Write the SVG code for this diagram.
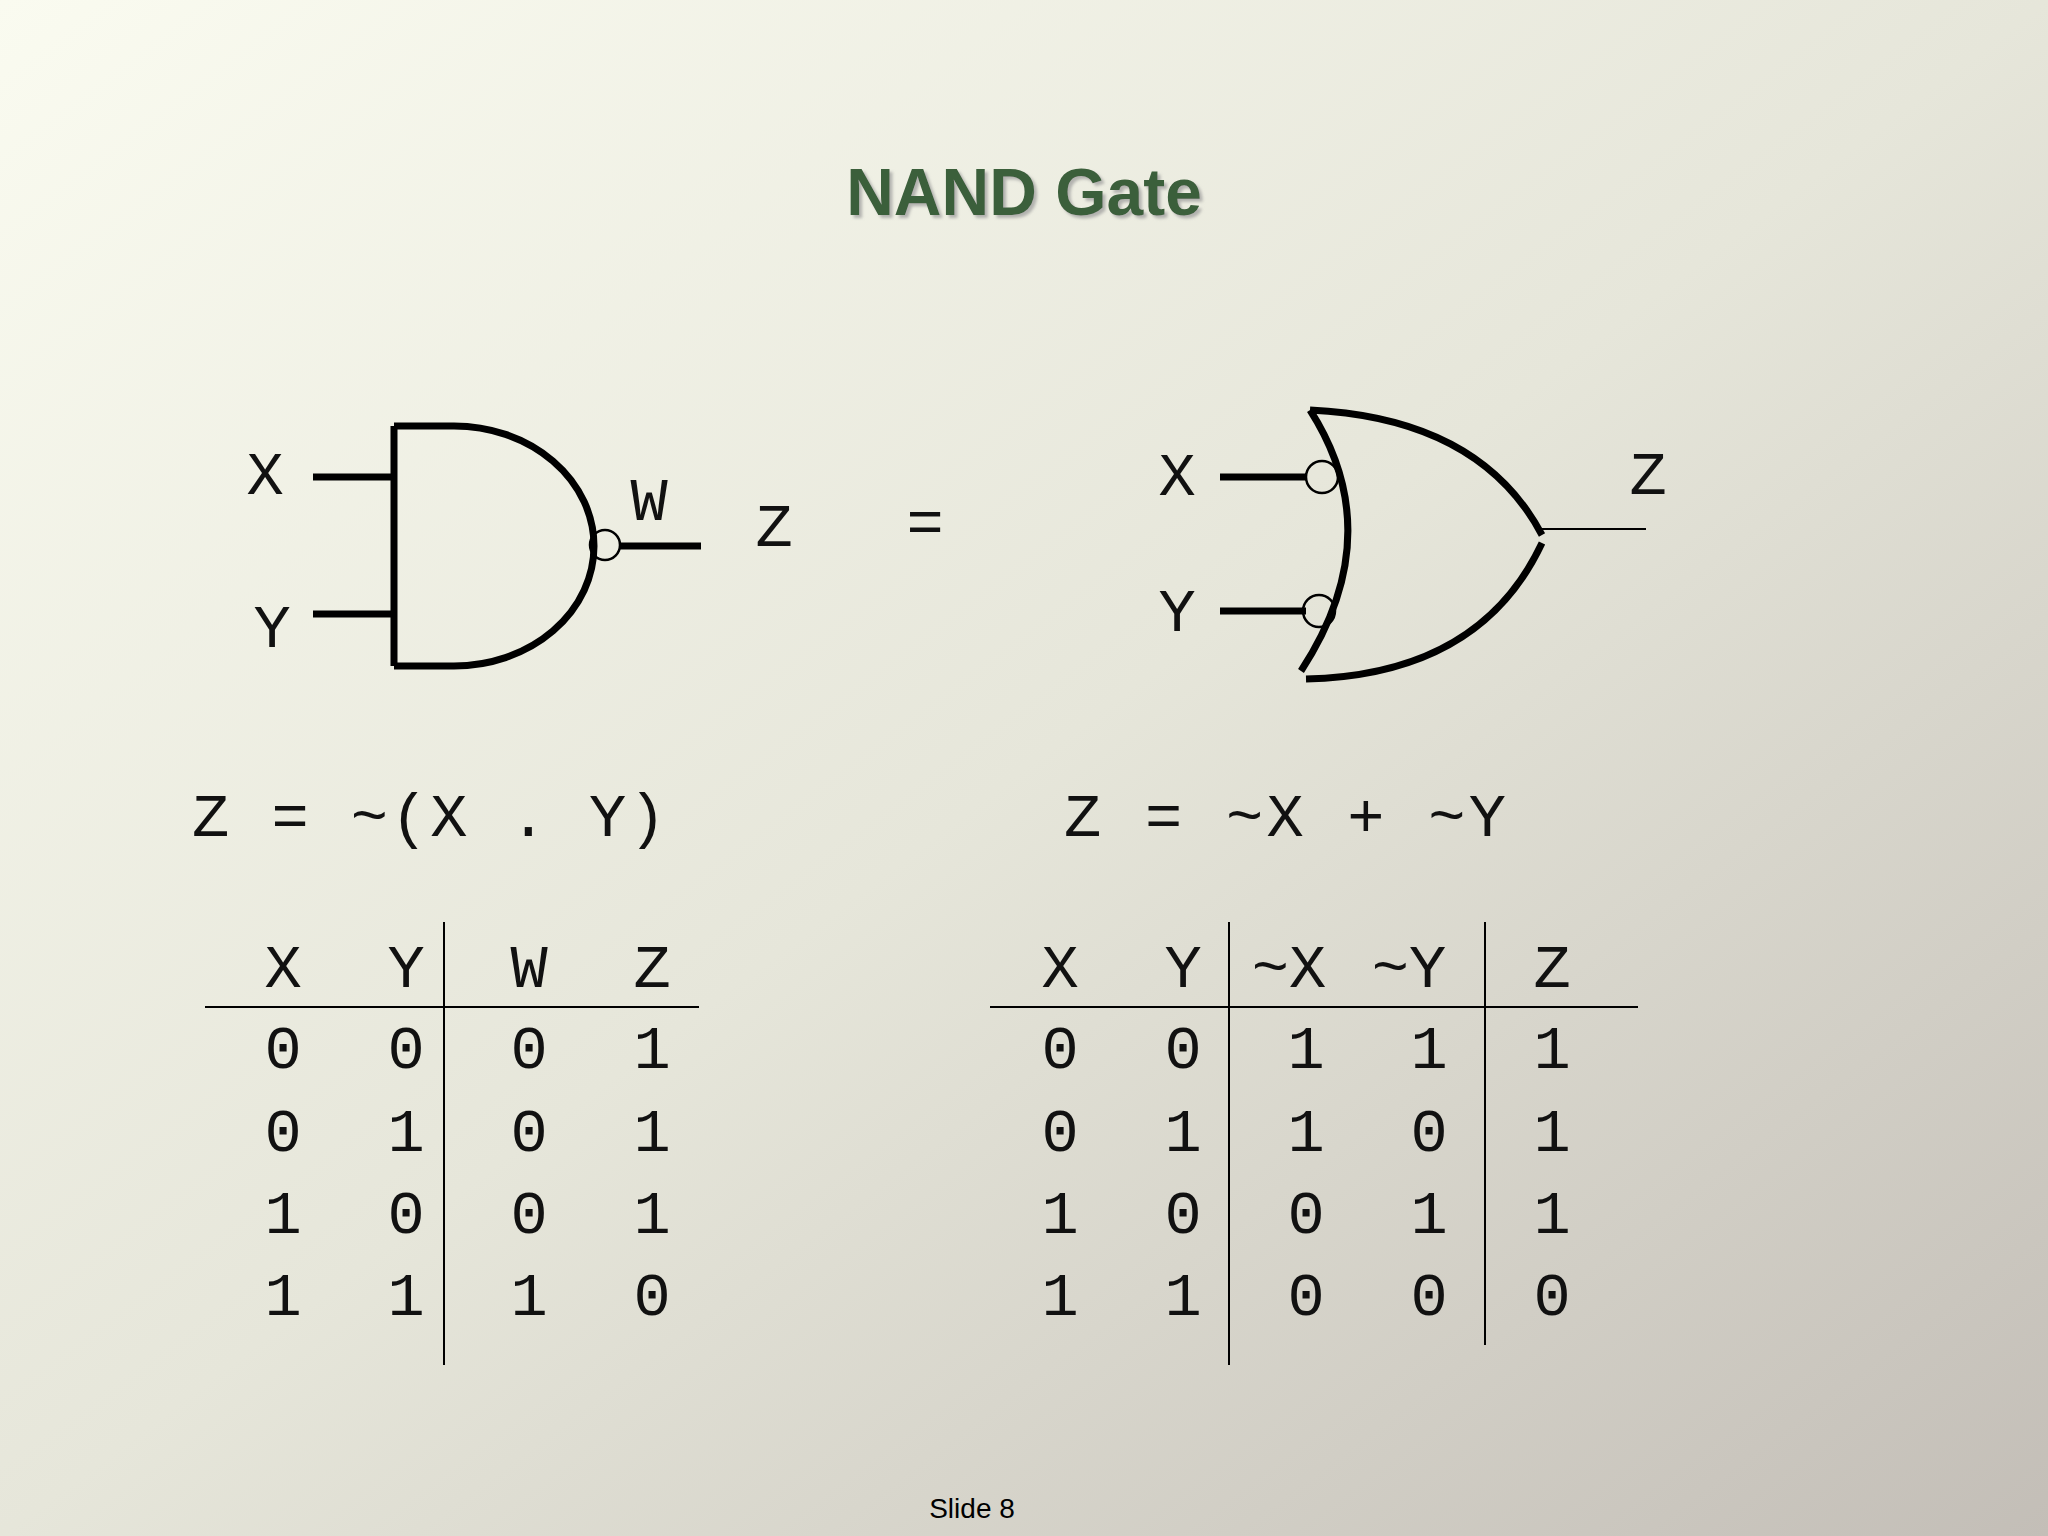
<svg xmlns="http://www.w3.org/2000/svg" width="2048" height="1536" viewBox="0 0 2048 1536">
<defs>
<linearGradient id="bg" x1="0" y1="0" x2="1" y2="1">
<stop offset="0" stop-color="#fafbf0"/><stop offset="0.5" stop-color="#e6e6da"/><stop offset="1" stop-color="#c3beb7"/>
</linearGradient>
<filter id="sh"><feDropShadow dx="3" dy="3" stdDeviation="1.5" flood-color="#999" flood-opacity="0.7"/></filter>
</defs>
<style>
.m{font-family:"Liberation Mono","Courier New",monospace;font-size:62px;fill:#111;text-anchor:middle;dominant-baseline:central}
.w{stroke:#000;stroke-width:7;fill:none}
.t{stroke:#000;stroke-width:2;fill:none}
</style>
<rect width="2048" height="1536" fill="url(#bg)"/>
<text x="1024" y="215" font-family="Liberation Sans,Arial,sans-serif" font-size="66" font-weight="bold" fill="#3b5e3a" text-anchor="middle" filter="url(#sh)">NAND Gate</text>
<g id="and-gate">
<path class="w" d="M313 477H394M313 614H394M394 426V666M394 426H454A140 120 0 0 1 454 666H394M620 546H701"/>
<circle cx="605" cy="545" r="15" fill="none" stroke="#000" stroke-width="2.5"/>
<text class="m" x="265" y="477">X</text><text class="m" x="272" y="630">Y</text>
<text class="m" x="649" y="503">W</text>
</g>
<text class="m" x="774" y="529">Z</text>
<text class="m" x="925" y="525">=</text>
<g id="or-gate">
<path class="w" d="M1310 410Q1390 535 1301 671M1310 410Q1480 418 1542 535M1306 679Q1480 675 1542 543M1220 477H1306M1220 611H1306"/>
<path class="t" d="M1535 529H1646"/>
<circle cx="1322" cy="477" r="16" fill="none" stroke="#000" stroke-width="2.5"/>
<circle cx="1319" cy="611" r="16" fill="none" stroke="#000" stroke-width="2.5"/>
<text class="m" x="1177" y="478">X</text><text class="m" x="1177" y="614">Y</text>
<text class="m" x="1648" y="477">Z</text>
</g>
<text class="m" x="429" y="819" textLength="474" xml:space="preserve">Z = ~(X . Y)</text>
<text class="m" x="1285" y="819" textLength="442" xml:space="preserve">Z = ~X + ~Y</text>
<g id="table-left">
<path class="t" d="M205 1007H699M444 922V1365"/>
<g class="m">
<text x="283" y="970">X</text><text x="406" y="970">Y</text><text x="529" y="970">W</text><text x="652" y="970">Z</text>
<text x="283" y="1051">0</text><text x="406" y="1051">0</text><text x="529" y="1051">0</text><text x="652" y="1051">1</text>
<text x="283" y="1134">0</text><text x="406" y="1134">1</text><text x="529" y="1134">0</text><text x="652" y="1134">1</text>
<text x="283" y="1216">1</text><text x="406" y="1216">0</text><text x="529" y="1216">0</text><text x="652" y="1216">1</text>
<text x="283" y="1298">1</text><text x="406" y="1298">1</text><text x="529" y="1298">1</text><text x="652" y="1298">0</text>
</g>
</g>
<g id="table-right">
<path class="t" d="M990 1007H1638M1229 922V1365M1485 922V1345"/>
<g class="m">
<text x="1060" y="970">X</text><text x="1183" y="970">Y</text><text x="1289" y="970">~X</text><text x="1409" y="970">~Y</text><text x="1552" y="970">Z</text>
<text x="1060" y="1051">0</text><text x="1183" y="1051">0</text><text x="1306" y="1051">1</text><text x="1429" y="1051">1</text><text x="1552" y="1051">1</text>
<text x="1060" y="1134">0</text><text x="1183" y="1134">1</text><text x="1306" y="1134">1</text><text x="1429" y="1134">0</text><text x="1552" y="1134">1</text>
<text x="1060" y="1216">1</text><text x="1183" y="1216">0</text><text x="1306" y="1216">0</text><text x="1429" y="1216">1</text><text x="1552" y="1216">1</text>
<text x="1060" y="1298">1</text><text x="1183" y="1298">1</text><text x="1306" y="1298">0</text><text x="1429" y="1298">0</text><text x="1552" y="1298">0</text>
</g>
</g>
<text x="972" y="1518" font-family="Liberation Sans,Arial,sans-serif" font-size="28" fill="#000" text-anchor="middle">Slide 8</text>
</svg>
